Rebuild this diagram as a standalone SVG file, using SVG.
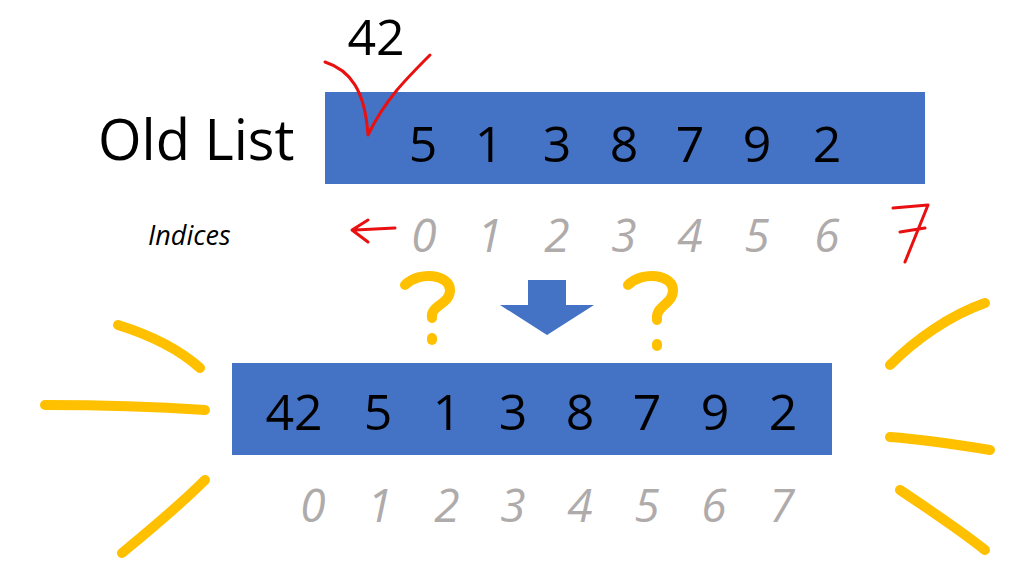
<svg xmlns="http://www.w3.org/2000/svg" width="1024" height="576" viewBox="0 0 1024 576">
<style>
.n{font-family:"Open Sans","Liberation Sans",sans-serif;font-size:50px;fill:#000;text-anchor:middle}
.i{font-family:"Open Sans","Liberation Sans",sans-serif;font-size:46px;font-style:italic;fill:#AFABAB;text-anchor:middle}
.y{fill:none;stroke:#FFC000;stroke-width:10;stroke-linecap:round}
.r{fill:none;stroke:#E81010;stroke-width:3;stroke-linecap:round;stroke-linejoin:round}
</style>
<rect width="1024" height="576" fill="#fff"/>
<rect x="325" y="92" width="600" height="92" fill="#4472C4"/>
<rect x="232" y="363" width="600" height="92" fill="#4472C4"/>
<text x="98" y="160" font-family="Open Sans,Liberation Sans,sans-serif" font-size="56">Old List</text>
<text x="376" y="55" class="n">42</text>
<g class="n"><text x="423" y="162">5</text><text x="489" y="162">1</text><text x="557" y="162">3</text><text x="624" y="162">8</text><text x="690" y="162">7</text><text x="757" y="162">9</text><text x="827" y="162">2</text></g>
<text x="148" y="245" font-family="Open Sans,Liberation Sans,sans-serif" font-size="27" font-style="italic">Indices</text>
<g class="i"><text x="424" y="252">0</text><text x="490" y="252">1</text><text x="557" y="252">2</text><text x="624" y="252">3</text><text x="690" y="252">4</text><text x="757" y="252">5</text><text x="827" y="252">6</text></g>
<path class="r" d="M325,62 C350,70 365,90 368,135 C385,100 405,80 430,55"/>
<path class="r" d="M395,228 L355,230 M368,220 L352,230 L368,242"/>
<path class="r" d="M893,208 L928,205 L905,262 M900,232 L925,228"/>
<path d="M528,280 H566 V305 H594 L547,335 L500,305 H528 Z" fill="#4472C4"/>
<g class="y">
<path d="M405,285 C420,270 450,275 450,290 C450,305 430,305 432,318"/><path d="M432,338 L432,340"/>
<path d="M628,285 C643,270 673,275 673,290 C673,305 655,305 657,320"/><path d="M657,344 L657,346"/>
<path d="M118,325 C150,335 180,350 200,368"/><path d="M45,405 C100,405 160,407 205,410"/><path d="M122,553 C150,530 180,505 205,480"/>
<path d="M890,365 C915,340 950,315 985,303"/><path d="M890,437 C930,440 960,445 990,450"/><path d="M900,490 C930,510 960,530 985,550"/>
</g>
<g class="n"><text x="294" y="430">42</text><text x="378" y="430">5</text><text x="447" y="430">1</text><text x="513" y="430">3</text><text x="580" y="430">8</text><text x="647" y="430">7</text><text x="715" y="430">9</text><text x="783" y="430">2</text></g>
<g class="i"><text x="313" y="522">0</text><text x="380" y="522">1</text><text x="447" y="522">2</text><text x="513" y="522">3</text><text x="580" y="522">4</text><text x="647" y="522">5</text><text x="714" y="522">6</text><text x="782" y="522">7</text></g>
</svg>
